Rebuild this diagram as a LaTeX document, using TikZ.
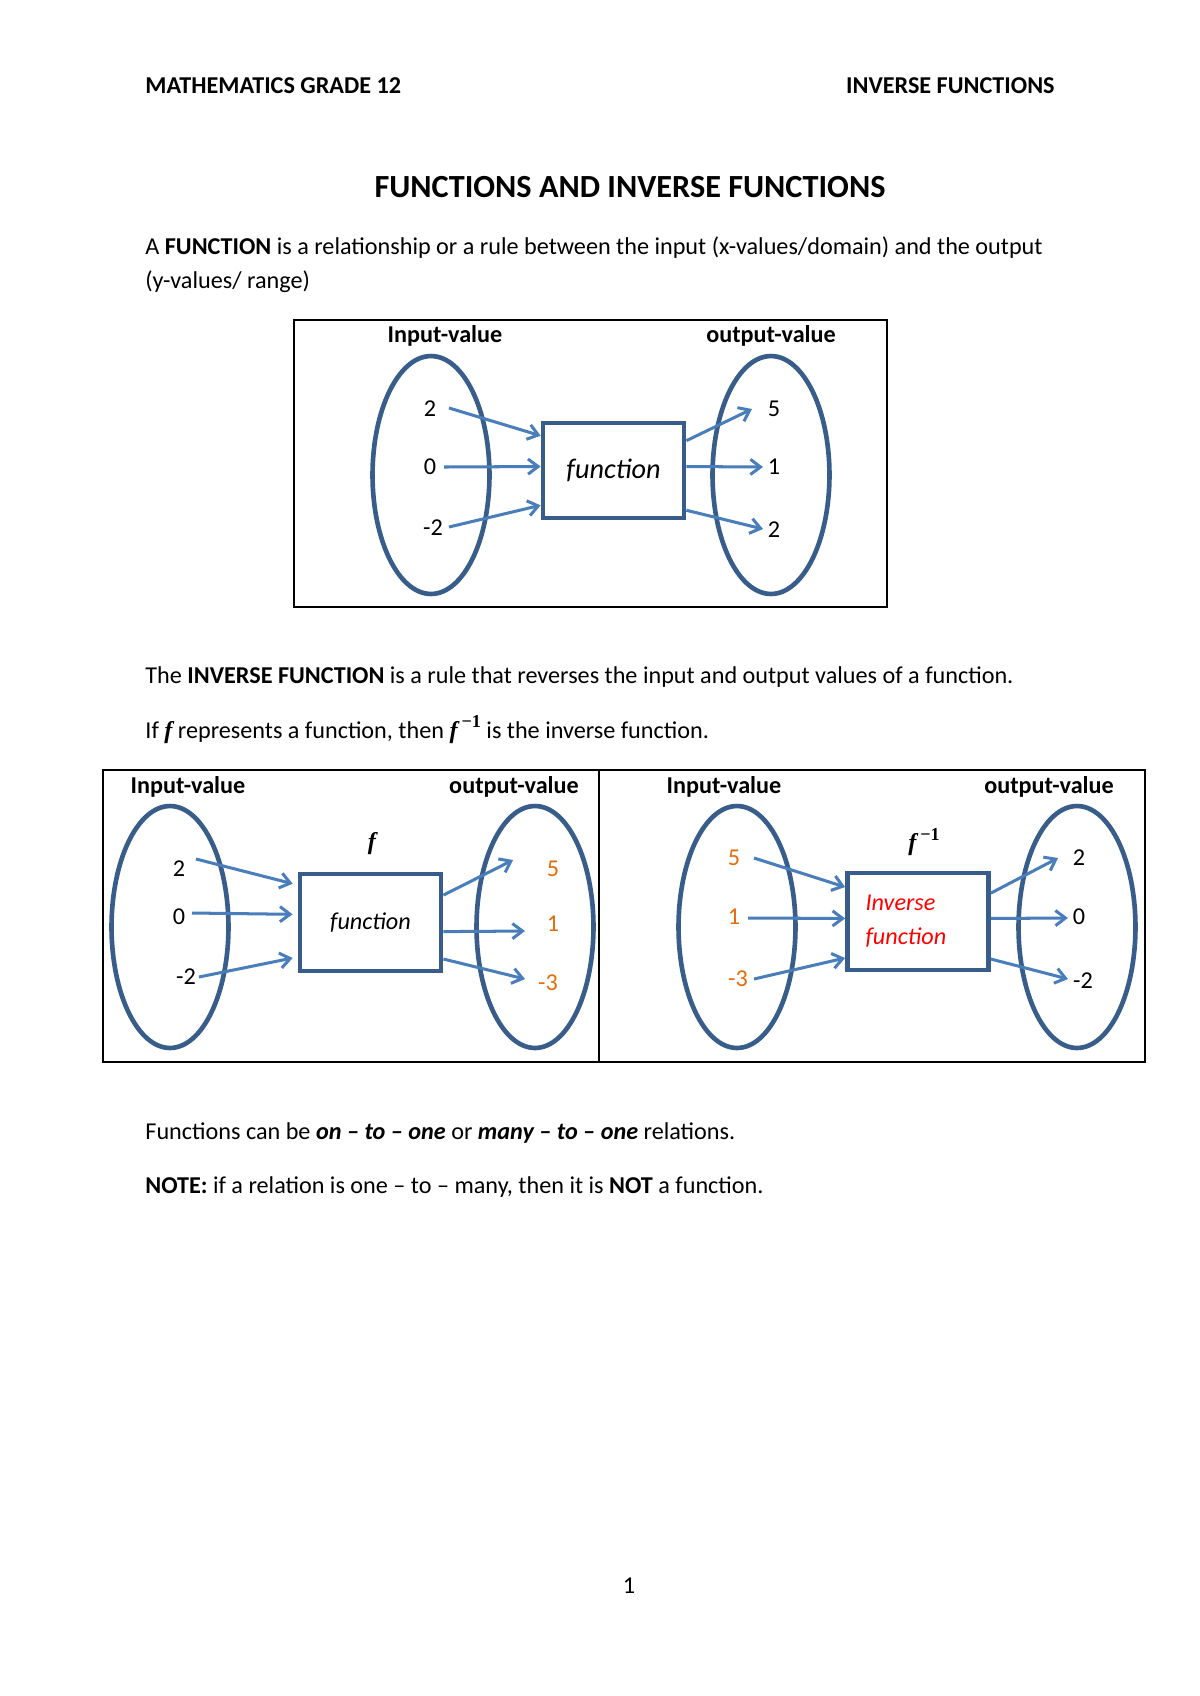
\documentclass[tikz,border=0pt]{standalone}
\usepackage{fontspec}
\setmainfont{Carlito}
\newfontfamily\serifmath{Liberation Serif}
\usetikzlibrary{arrows.meta,calc,shapes.geometric}
\definecolor{ellc}{HTML}{385D8A}
\definecolor{arrc}{HTML}{4A7EBB}
\definecolor{orng}{HTML}{E46C0A}
\definecolor{redt}{HTML}{FF0000}
\newcommand{\mf}{{\serifmath\bfseries\itshape f}}
\newcommand{\mfinv}{\mf\hspace{2pt}\raisebox{0.42em}{\fontsize{9}{10}\selectfont\serifmath\bfseries −1}}
\begin{document}
\begin{tikzpicture}[x=0.496pt,y=-0.496pt,
  ell/.style={draw=ellc,line width=2.3pt,ellipse,inner sep=0pt,minimum width=58pt},
  fbox/.style={draw=ellc,line width=2.3pt,rectangle,inner sep=0pt,minimum width=70pt},
  arr/.style={draw=arrc,line width=1.5pt,-{Straight Barb[length=5pt,width=7.5pt]}},
  num/.style={font=\fontsize{12}{14}\selectfont,inner sep=1.5pt},
  onum/.style={num,text=orng},
  lbl/.style={font=\fontsize{12}{14}\selectfont\bfseries,anchor=base,inner sep=0pt},
  txt/.style={font=\fontsize{12}{14}\selectfont,anchor=base west,inner sep=0pt},
  frame/.style={draw=black,line width=1pt}]

\fill[white] (0,0) rectangle (1200,1696);
\useasboundingbox (0,0) rectangle (1200,1696);

% header and text
\node[txt,font=\fontsize{12}{14}\selectfont\bfseries] (hl) at (145,93) {MATHEMATICS GRADE 12};
\node[txt,font=\fontsize{12}{14}\selectfont\bfseries,anchor=base east] (hr) at (1055,93) {INVERSE FUNCTIONS};
\node[font=\fontsize{16}{19}\selectfont\bfseries,anchor=base,inner sep=0pt] (title) at (630,197) {FUNCTIONS AND INVERSE FUNCTIONS};
\node[txt] (p1) at (145,254) {A \textbf{FUNCTION} is a relationship or a rule between the input (x-values/domain) and the output};
\node[txt] (p2) at (145,288) {(y-values/ range)};
\node[txt] (p3) at (145,683) {The \textbf{INVERSE FUNCTION} is a rule that reverses the input and output values of a function.};
\node[txt] (p4) at (145,738) {If \mf\ represents a function, then \mfinv\ is the inverse function.};
\node[txt] (p5) at (145,1139) {Functions can be \textbf{\textit{on – to – one}} or \textbf{\textit{many – to – one}} relations.};
\node[txt] (p6) at (145,1193) {\textbf{NOTE:} if a relation is one – to – many, then it is \textbf{NOT} a function.};
\node[txt,anchor=base] (pg) at (629,1593) {1};

% ---------- diagram 1 ----------
\draw[frame] (294,320) rectangle (887,607);
\node[lbl] (Tin) at (445,342) {Input-value};
\node[lbl] (Tout) at (771,342) {output-value};
\node[ell,minimum height=118pt] (Tel) at (431,475) {};
\node[ell,minimum height=118pt] (Ter) at (771,475) {};
\node[fbox,minimum height=47pt,font=\fontsize{14}{17}\selectfont\itshape] (Tb) at (613.5,470.5) {function};
\node[num] (Ta) at (430,409) {2};
\node[num] (Tz) at (430,467) {0};
\node[num] (Tm) at (433,528) {-2};
\node[num] (To5) at (774,409) {5};
\node[num] (To1) at (774,467) {1};
\node[num] (To2) at (774,530) {2};
\coordinate (Tsa) at (449,408);
\coordinate (Tsz) at (444,467);
\coordinate (Tsm) at (449,527);
\coordinate (Te5) at (752,409);
\coordinate (Te1) at (763,467);
\coordinate (Te2) at (763,529);
\draw[arr] (Tsa) -- ($(Tb.north west)!0.15!(Tb.south west)$);
\draw[arr] (Tsz) -- ($(Tb.north west)!0.46!(Tb.south west)$);
\draw[arr] (Tsm) -- ($(Tb.north west)!0.85!(Tb.south west)$);
\draw[arr] ($(Tb.north east)!0.2!(Tb.south east)$) -- (Te5);
\draw[arr] ($(Tb.north east)!0.46!(Tb.south east)$) -- (Te1);
\draw[arr] ($(Tb.north east)!0.9!(Tb.south east)$) -- (Te2);

% ---------- diagram 2 frame ----------
\draw[frame] (103,770) rectangle (1145,1062);
\draw[frame] (599,770) -- (599,1062);

% ---------- left panel ----------
\node[lbl] (Lin) at (188,793) {Input-value};
\node[lbl] (Lout) at (514,793) {output-value};
\node[ell,minimum height=120pt] (Lel) at (170,927) {};
\node[ell,minimum height=120pt] (Ler) at (535,927) {};
\node[font=\fontsize{12}{14}\selectfont,inner sep=0pt] (Lf) at (372,844) {\mf};
\node[fbox,minimum height=48pt,font=\fontsize{12}{14}\selectfont\itshape] (Lb) at (370.5,922.5) {function};
\node[num] (La) at (179,869) {2};
\node[num] (Lz) at (179,917) {0};
\node[num] (Lm) at (186,977) {-2};
\node[onum] (Lo5) at (553,869) {5};
\node[onum] (Lo1) at (553,924) {1};
\node[onum] (Lo3) at (548,983) {-3};
\coordinate (Lsa) at (196,859);
\coordinate (Lsz) at (192,913);
\coordinate (Lsm) at (199,977);
\coordinate (Le5) at (513,860);
\coordinate (Le1) at (525,931);
\coordinate (Le3) at (525,979);
\draw[arr,shorten >=2.5pt] (Lsa) -- ($(Lb.north west)!0.13!(Lb.south west)$);
\draw[arr,shorten >=2.5pt] (Lsz) -- ($(Lb.north west)!0.42!(Lb.south west)$);
\draw[arr,shorten >=2.5pt] (Lsm) -- ($(Lb.north west)!0.84!(Lb.south west)$);
\draw[arr] ($(Lb.north east)!0.23!(Lb.south east)$) -- (Le5);
\draw[arr] ($(Lb.north east)!0.59!(Lb.south east)$) -- (Le1);
\draw[arr] ($(Lb.north east)!0.86!(Lb.south east)$) -- (Le3);

% ---------- right panel ----------
\node[lbl] (Rin) at (724,793) {Input-value};
\node[lbl] (Rout) at (1049,793) {output-value};
\node[ell,minimum height=120pt] (Rel) at (737,927) {};
\node[ell,minimum height=120pt] (Rer) at (1077,927) {};
\node[font=\fontsize{12}{14}\selectfont,inner sep=0pt] (Rf) at (924,842) {\mfinv};
\node[fbox,minimum height=48pt,text width=52pt,inner xsep=9pt,align=left,text=redt,font=\fontsize{12}{17}\selectfont\itshape] (Rb) at (918,921.5) {Inverse\\function};
\node[onum] (Ra5) at (734,858) {5};
\node[onum] (Ra1) at (734,917) {1};
\node[onum] (Ra3) at (738,979) {-3};
\node[num] (Ro2) at (1079,858) {2};
\node[num] (Ro0) at (1079,917) {0};
\node[num] (Rom) at (1083,981) {-2};
\coordinate (Rsa) at (754,858);
\coordinate (Rsz) at (748,918);
\coordinate (Rsm) at (754,979);
\coordinate (Re2) at (1058,858);
\coordinate (Re0) at (1068,918);
\coordinate (Rem) at (1068,979);
\draw[arr] (Rsa) -- ($(Rb.north west)!0.16!(Rb.south west)$);
\draw[arr] (Rsz) -- ($(Rb.north west)!0.47!(Rb.south west)$);
\draw[arr] (Rsm) -- ($(Rb.north west)!0.86!(Rb.south west)$);
\draw[arr] ($(Rb.north east)!0.22!(Rb.south east)$) -- (Re2);
\draw[arr] ($(Rb.north east)!0.47!(Rb.south east)$) -- (Re0);
\draw[arr] ($(Rb.north east)!0.87!(Rb.south east)$) -- (Rem);
\end{tikzpicture}
\end{document}
